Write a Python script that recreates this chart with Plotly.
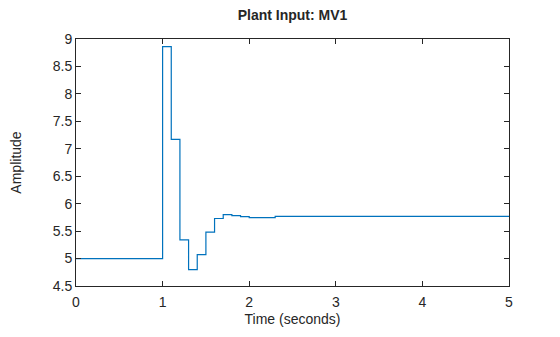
import plotly.graph_objects as go

time_s = [0.0, 1.0, 1.1, 1.2, 1.3, 1.4, 1.5, 1.6, 1.7, 1.8, 1.9, 2.0, 2.3, 5.0]
mv1 = [5.0, 8.86, 7.17, 5.34, 4.80, 5.07, 5.48, 5.73, 5.80, 5.783, 5.765, 5.746, 5.77, 5.77]

FONT = "Liberation Sans, Arial, sans-serif"
INK = "#262626"

fig = go.Figure()
fig.add_trace(go.Scatter(x=time_s, y=mv1, mode="lines", line=dict(shape="hv", color="#0072BD", width=1.2),
                         showlegend=False, hoverinfo="skip"))

axis_common = dict(showline=True, linecolor=INK, linewidth=1, mirror="ticks", ticks="inside",
                   ticklen=5, tickcolor=INK, showgrid=False, zeroline=False, automargin=False,
                   tickfont=dict(family=FONT, size=14, color=INK))

fig.update_layout(
    width=560, height=337,
    margin=dict(l=76, r=51, t=39, b=51),
    paper_bgcolor="white", plot_bgcolor="white",
    title=dict(text="<b>Plant Input: MV1</b>", x=0.5, xref="paper", xanchor="center",
               y=1 - 15 / 337, yref="container", yanchor="middle",
               font=dict(family=FONT, size=14, color=INK)),
    xaxis=dict(range=[0, 5], dtick=1, tick0=0, ticklabelstandoff=3,
               title=dict(text="Time (seconds)", standoff=5,
                          font=dict(family=FONT, size=14, color=INK)),
               **axis_common),
    yaxis=dict(range=[4.5, 9], dtick=0.5, tick0=4.5,
               title=dict(text="Amplitude", standoff=27,
                          font=dict(family=FONT, size=14, color=INK)),
               **axis_common),
)

fig.write_html("out.html")
